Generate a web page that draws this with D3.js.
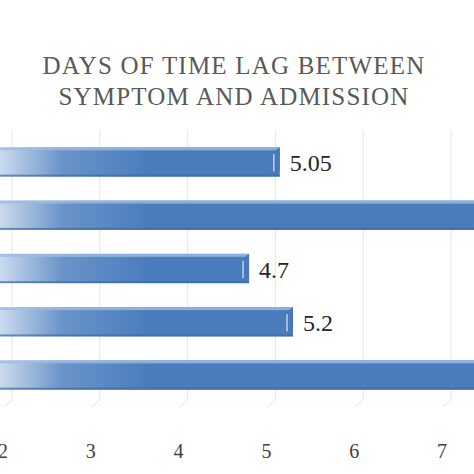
<!DOCTYPE html>
<html lang="en">
<head>
<meta charset="UTF-8">
<style>
  body { margin: 0; background: #fff; }
</style>
</head>
<body>
<div id="chart"></div>
<script src="https://d3js.org/d3.v7.min.js"></script>
<script>
// data (bars 2 and 5 run off the crop, estimated)
const categories = ["A", "B", "C", "D", "E"];
const values = [5.05, 8.1, 4.7, 5.2, 8.5];
const labels = ["5.05", "", "4.7", "5.2", ""];
const gridTicks = [1, 2, 3, 4, 5, 6, 7, 8];
const tickLabels = [2, 3, 4, 5, 6, 7];
const titleLines = ["DAYS OF TIME LAG BETWEEN", "SYMPTOM AND ADMISSION"];

const serif = "Liberation Serif, Times New Roman, Tinos, DejaVu Serif, serif";
const width = 474, height = 474;
const svg = d3.select("#chart").append("svg")
    .attr("width", width).attr("height", height)
    .style("display", "block");

const defs = svg.append("defs");
const grad = defs.append("linearGradient").attr("id", "barGrad")
    .attr("gradientUnits", "userSpaceOnUse")
    .attr("x1", -10).attr("x2", 150).attr("y1", 0).attr("y2", 0);
grad.append("stop").attr("offset", "0%").attr("stop-color", "#dbe6f4");
grad.append("stop").attr("offset", "45%").attr("stop-color", "#6a94c9");
grad.append("stop").attr("offset", "100%").attr("stop-color", "#4a7cbd");

const x = d3.scaleLinear().domain([2, 7]).range([12, 451]);
const y = d3.scaleBand().domain(categories).range([134, 403]).paddingInner(0.45).paddingOuter(0.25);

// gridlines
svg.append("g").selectAll("line").data(gridTicks).join("line")
    .attr("x1", d => x(d)).attr("x2", d => x(d))
    .attr("y1", 130).attr("y2", 400)
    .attr("stroke", "#e6e6e6").attr("stroke-width", 1);
svg.append("g").selectAll("line").data(gridTicks).join("line")
    .attr("x1", d => x(d)).attr("x2", d => x(d) - 8)
    .attr("y1", 400).attr("y2", 407)
    .attr("stroke", "#e0e0e0");

// tick labels
svg.append("g").selectAll("text").data(tickLabels).join("text")
    .attr("x", d => x(d) - 9).attr("y", 458)
    .attr("text-anchor", "middle")
    .attr("font-family", serif)
    .attr("font-size", 20).attr("fill", "#404040")
    .text(d => d);

// bars with a slight 3D end cap
const bars = svg.append("g").selectAll("g").data(categories).join("g");
bars.append("rect")
    .attr("x", -5).attr("y", d => y(d))
    .attr("width", (d, i) => x(values[i]) + 5)
    .attr("height", y.bandwidth())
    .attr("fill", "url(#barGrad)");
bars.append("rect")
    .attr("x", -5).attr("y", d => y(d))
    .attr("width", (d, i) => x(values[i]) + 5)
    .attr("height", 3)
    .attr("fill", "#9dbbe2").attr("opacity", 0.8);
bars.append("rect")
    .attr("x", -5).attr("y", d => y(d) + y.bandwidth() - 2)
    .attr("width", (d, i) => x(values[i]) + 5)
    .attr("height", 2)
    .attr("fill", "#3d6aa6").attr("opacity", 0.7);
bars.append("path")
    .attr("d", (d, i) => {
        const xe = x(values[i]), y0 = y(d), h = y.bandwidth();
        return `M${xe - 8},${y0 + 6}L${xe},${y0}L${xe},${y0 + h - 6}L${xe - 8},${y0 + h}Z`;
    })
    .attr("fill", "#4a78b8");
bars.append("line")
    .attr("x1", (d, i) => x(values[i]) - 6).attr("x2", (d, i) => x(values[i]) - 6)
    .attr("y1", d => y(d) + 7).attr("y2", d => y(d) + y.bandwidth() - 5)
    .attr("stroke", "#bcd3ef").attr("stroke-width", 1.5);

// value labels
svg.append("g").selectAll("text").data(categories).join("text")
    .attr("x", (d, i) => x(values[i]) + 10)
    .attr("y", d => y(d) + y.bandwidth() / 2 + 9)
    .attr("font-family", serif)
    .attr("font-size", 24).attr("fill", "#262626")
    .text((d, i) => labels[i]);

// title
svg.append("g").selectAll("text").data(titleLines).join("text")
    .attr("x", 234).attr("y", (d, i) => 74 + i * 31)
    .attr("text-anchor", "middle")
    .attr("font-family", serif)
    .attr("font-size", 25).attr("letter-spacing", 1.2)
    .attr("fill", "#595959")
    .text(d => d);
</script>
</body>
</html>
